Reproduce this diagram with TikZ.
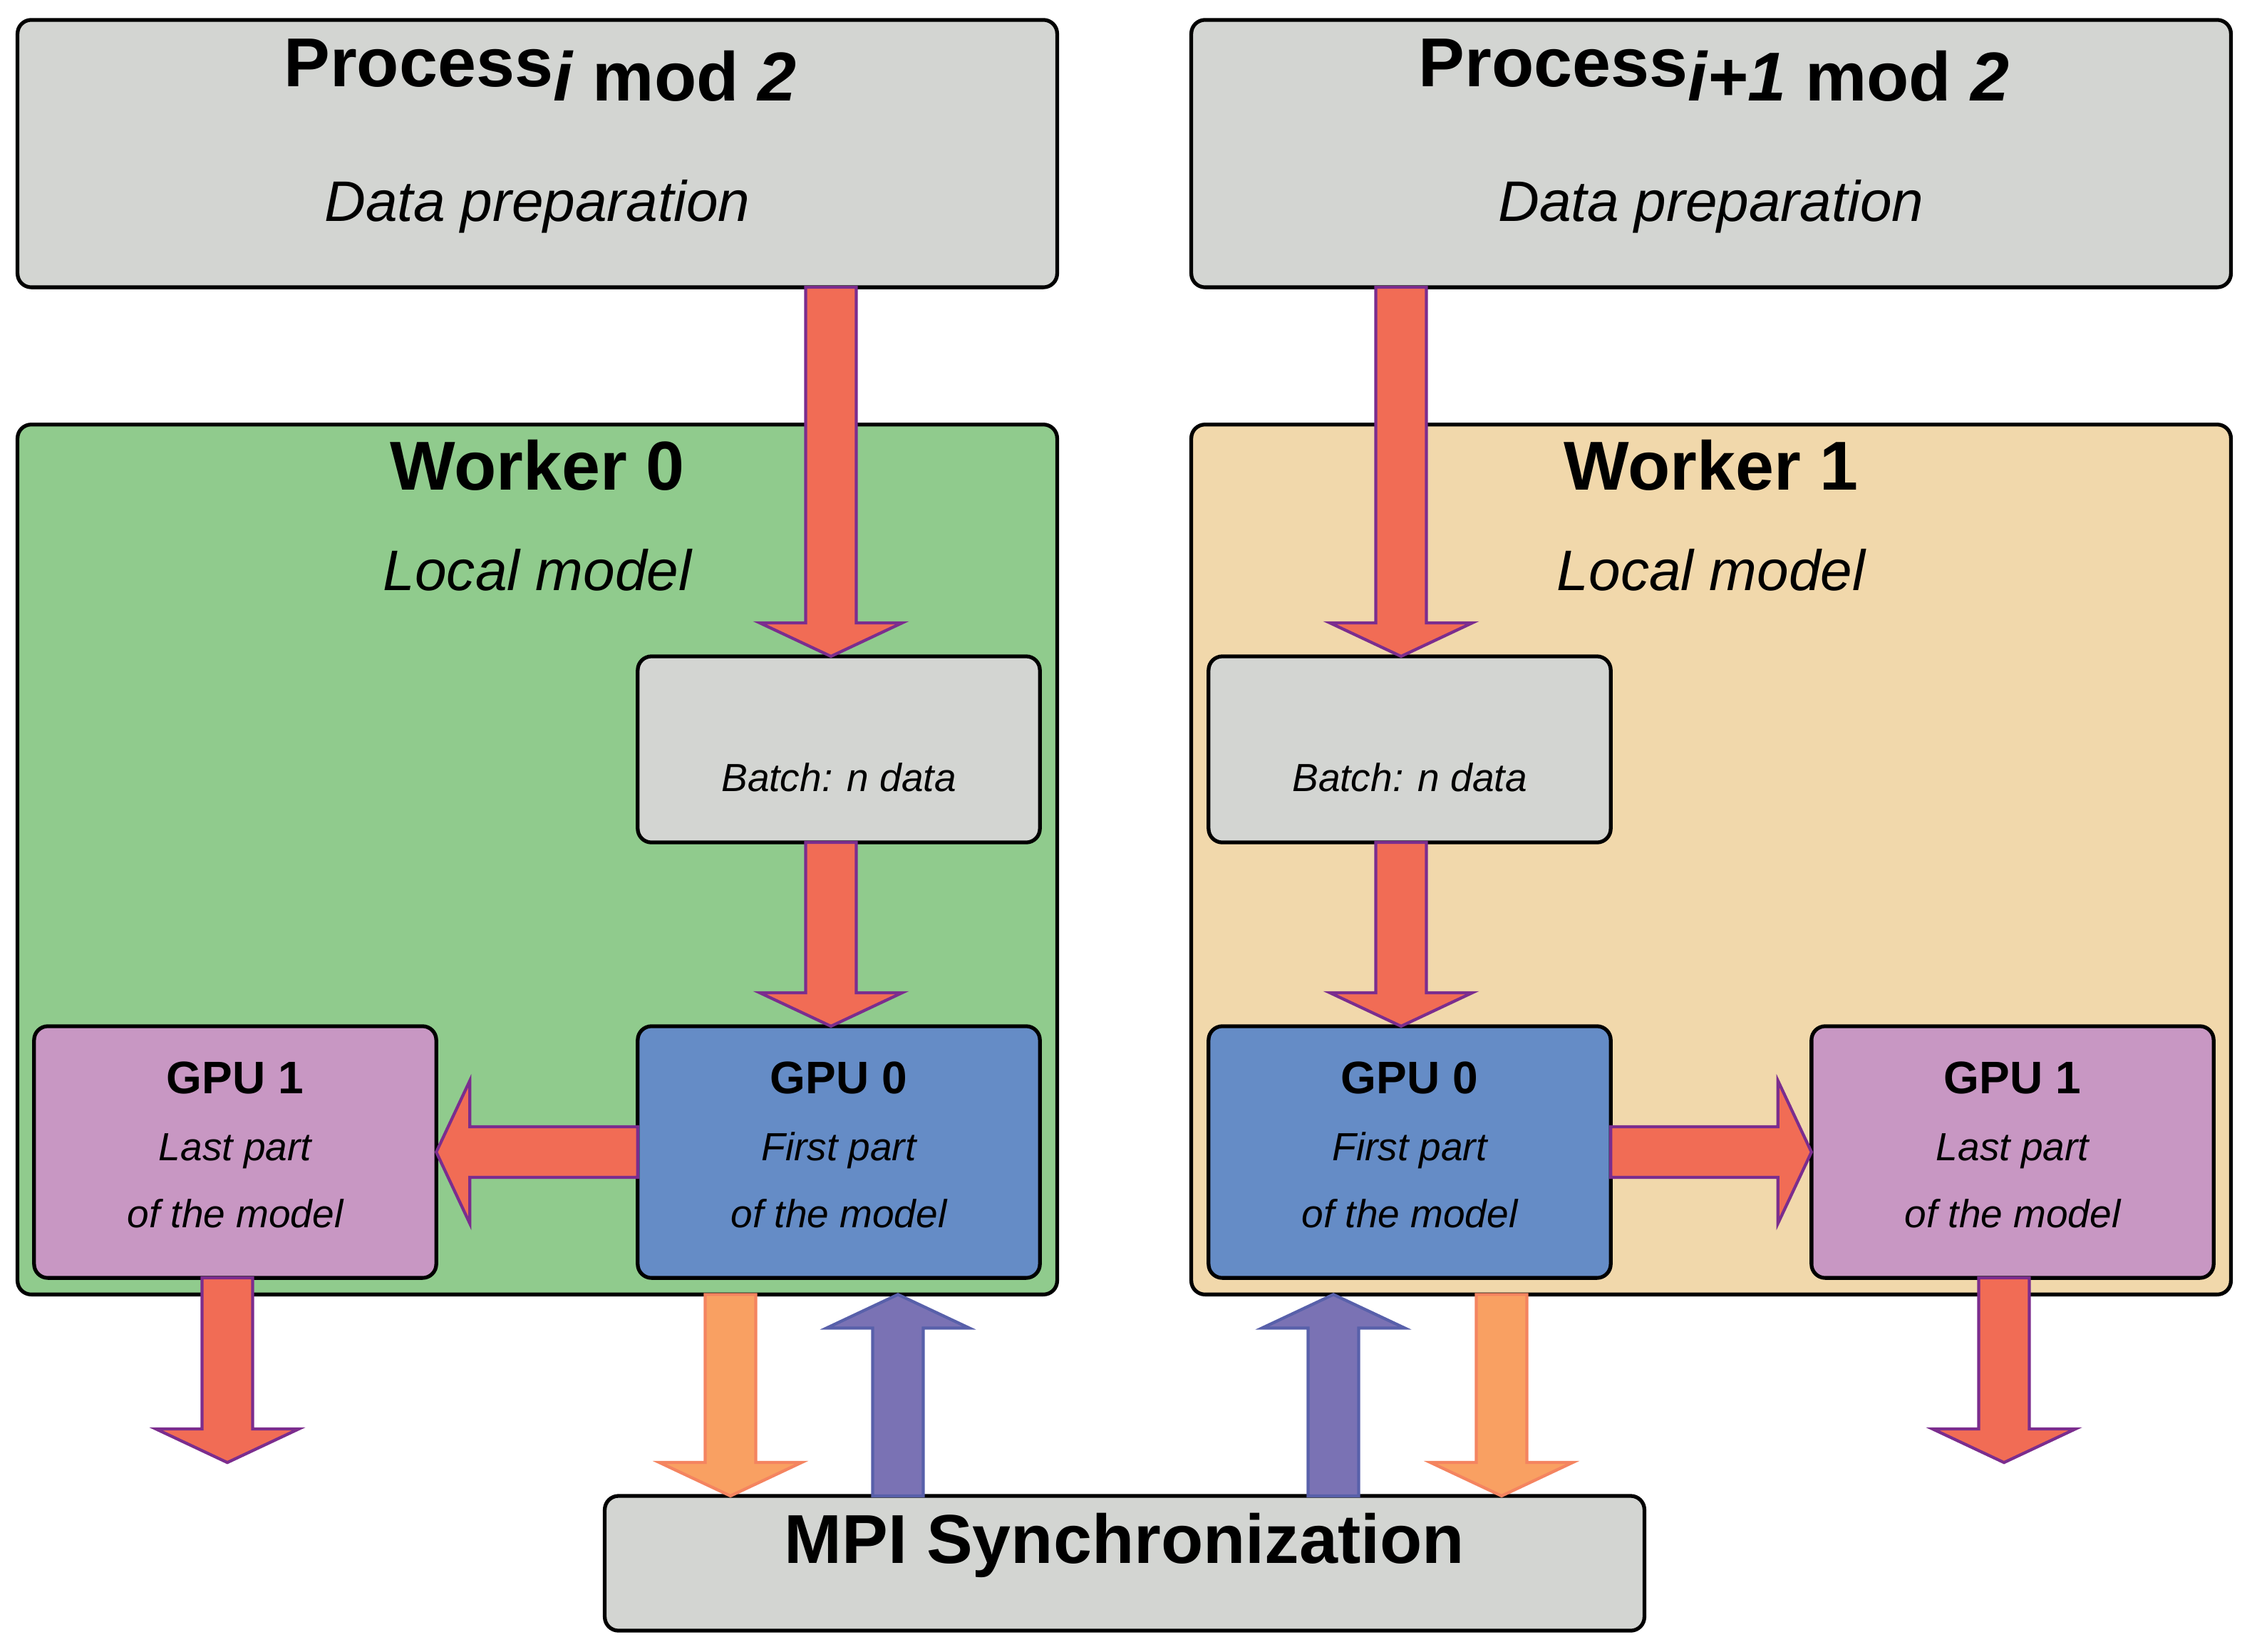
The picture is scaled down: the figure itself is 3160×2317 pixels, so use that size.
\documentclass[tikz,border=0pt]{standalone}
\usepackage{fontspec}
\setmainfont{Liberation Sans}
\usetikzlibrary{calc}
\definecolor{boxgray}{RGB}{211,213,210}
\definecolor{wgreen}{RGB}{144,203,141}
\definecolor{wtan}{RGB}{241,216,171}
\definecolor{gpublue}{RGB}{101,140,198}
\definecolor{gpupurple}{RGB}{200,151,195}
\definecolor{redfill}{RGB}{241,108,85}
\definecolor{redline}{RGB}{123,45,142}
\definecolor{orfill}{RGB}{249,160,98}
\definecolor{orline}{RGB}{244,132,96}
\definecolor{bafill}{RGB}{122,114,180}
\definecolor{baline}{RGB}{88,96,170}
\newcommand\blockarrow[3]{%
  \coordinate (ba-s) at (#2);
  \coordinate (ba-t) at (#3);
  \coordinate (ba-w) at ($(ba-t)!0.47cm!(ba-s)$);
  \draw[#1] ($(ba-s)!0.355cm!90:(ba-t)$) -- ($(ba-w)!0.355cm!-90:(ba-s)$)
    -- ($(ba-w)!1.0cm!-90:(ba-s)$) -- (ba-t) -- ($(ba-w)!1.0cm!90:(ba-s)$)
    -- ($(ba-w)!0.355cm!90:(ba-s)$) -- ($(ba-s)!0.355cm!-90:(ba-t)$) -- cycle;}
\tikzset{
  box/.style={draw=black, line width=1.5pt, rounded corners=5.5pt, inner sep=0pt, outer sep=0pt},
  bigbox/.style={box, minimum width=14.58cm},
  smallbox/.style={box, minimum width=5.64cm},
  redarrow/.style={fill=redfill, draw=redline, line width=1.2pt},
  orarrow/.style={fill=orfill, draw=orline, line width=1.2pt},
  bluearrow/.style={fill=bafill, draw=baline, line width=1.2pt},
  titletext/.style={anchor=base, inner sep=0pt, font=\fontsize{27.6}{33}\selectfont\bfseries},
  subtext/.style={anchor=base, inner sep=0pt, font=\fontsize{22.8}{27}\selectfont\itshape},
  gputext/.style={anchor=base, inner sep=0pt, font=\fontsize{18.2}{22}\selectfont\bfseries},
  smalltext/.style={anchor=base, inner sep=0pt, font=\fontsize{15.65}{19}\selectfont\itshape},
}
\begin{document}
\begin{tikzpicture}[x=0.01cm, y=-0.01cm]
\useasboundingbox (0,0) rectangle (3160,2317);
% process boxes
\node[bigbox, fill=boxgray, minimum height=3.75cm] (procL) at (754,215.5) {};
\node[bigbox, fill=boxgray, minimum height=3.75cm] (procR) at (2401,215.5) {};
% workers
\node[bigbox, fill=wgreen, minimum height=12.2cm] (workL) at (754,1206) {};
\node[bigbox, fill=wtan, minimum height=12.2cm] (workR) at (2401,1206) {};
% batches
\node[smallbox, fill=boxgray, minimum height=2.61cm] (batchL) at (1177,1051.5) {};
\node[smallbox, fill=boxgray, minimum height=2.61cm] (batchR) at (1978,1051.5) {};
% GPUs
\node[smallbox, fill=gpublue, minimum height=3.53cm] (gpu0L) at (1177,1616.5) {};
\node[smallbox, fill=gpupurple, minimum height=3.53cm] (gpu1L) at (330,1616.5) {};
\node[smallbox, fill=gpublue, minimum height=3.53cm] (gpu0R) at (1978,1616.5) {};
\node[smallbox, fill=gpupurple, minimum height=3.53cm] (gpu1R) at (2824,1616.5) {};
% MPI
\node[bigbox, fill=boxgray, minimum height=1.89cm] (mpi) at (1578,2193.5) {};

% texts
\node[titletext] (procLt) at (758,121) {Process\raisebox{-0.2cm}{\textit{i} mod \textit{2}}};
\node[subtext] (procLs) at (754,310) {Data preparation};
\node[titletext] (procRt) at (2405,121) {Process\raisebox{-0.2cm}{\textit{i+1} mod \textit{2}}};
\node[subtext] (procRs) at (2401,310) {Data preparation};
\node[titletext] (workLt) at (754,687) {Worker 0};
\node[subtext] (workLs) at (754,828) {Local model};
\node[titletext] (workRt) at (2401,687) {Worker 1};
\node[subtext] (workRs) at (2401,828) {Local model};
\node[smalltext] (batchLt) at (1177,1110) {Batch: n data};
\node[smalltext] (batchRt) at (1978,1110) {Batch: n data};
\node[gputext] (gpu0Lt) at (1177,1534) {GPU 0};
\node[smalltext] (gpu0La) at (1177,1628) {First part};
\node[smalltext] (gpu0Lb) at (1177,1722) {of the model};
\node[gputext] (gpu1Lt) at (330,1534) {GPU 1};
\node[smalltext] (gpu1La) at (330,1628) {Last part};
\node[smalltext] (gpu1Lb) at (330,1722) {of the model};
\node[gputext] (gpu0Rt) at (1978,1534) {GPU 0};
\node[smalltext] (gpu0Ra) at (1978,1628) {First part};
\node[smalltext] (gpu0Rb) at (1978,1722) {of the model};
\node[gputext] (gpu1Rt) at (2824,1534) {GPU 1};
\node[smalltext] (gpu1Ra) at (2824,1628) {Last part};
\node[smalltext] (gpu1Rb) at (2824,1722) {of the model};
\node[titletext] (mpit) at (1578,2193) {MPI Synchronization};

% arrows, left worker
\coordinate (aL) at ($(batchL.north)+(-11,0)$);
\blockarrow{redarrow}{aL |- procL.south}{aL}
\blockarrow{redarrow}{aL |- batchL.south}{aL |- gpu0L.north}
\blockarrow{redarrow}{gpu0L.west}{gpu1L.east}
\blockarrow{redarrow}{$(gpu1L.south)+(-11,0)$}{$(gpu1L.south)+(-11,259)$}
\blockarrow{orarrow}{$(workL.south)+(271,0)$}{$(mpi.north)+(-553,0)$}
\blockarrow{bluearrow}{$(mpi.north)+(-318,0)$}{$(workL.south)+(506,0)$}
% arrows, right worker
\coordinate (aR) at ($(batchR.north)+(-12,0)$);
\blockarrow{redarrow}{aR |- procR.south}{aR}
\blockarrow{redarrow}{aR |- batchR.south}{aR |- gpu0R.north}
\blockarrow{redarrow}{gpu0R.east}{gpu1R.west}
\blockarrow{redarrow}{$(gpu1R.south)+(-12,0)$}{$(gpu1R.south)+(-12,259)$}
\blockarrow{bluearrow}{$(mpi.north)+(293,0)$}{$(workR.south)+(-530,0)$}
\blockarrow{orarrow}{$(workR.south)+(-294,0)$}{$(mpi.north)+(529,0)$}
\end{tikzpicture}
\end{document}
